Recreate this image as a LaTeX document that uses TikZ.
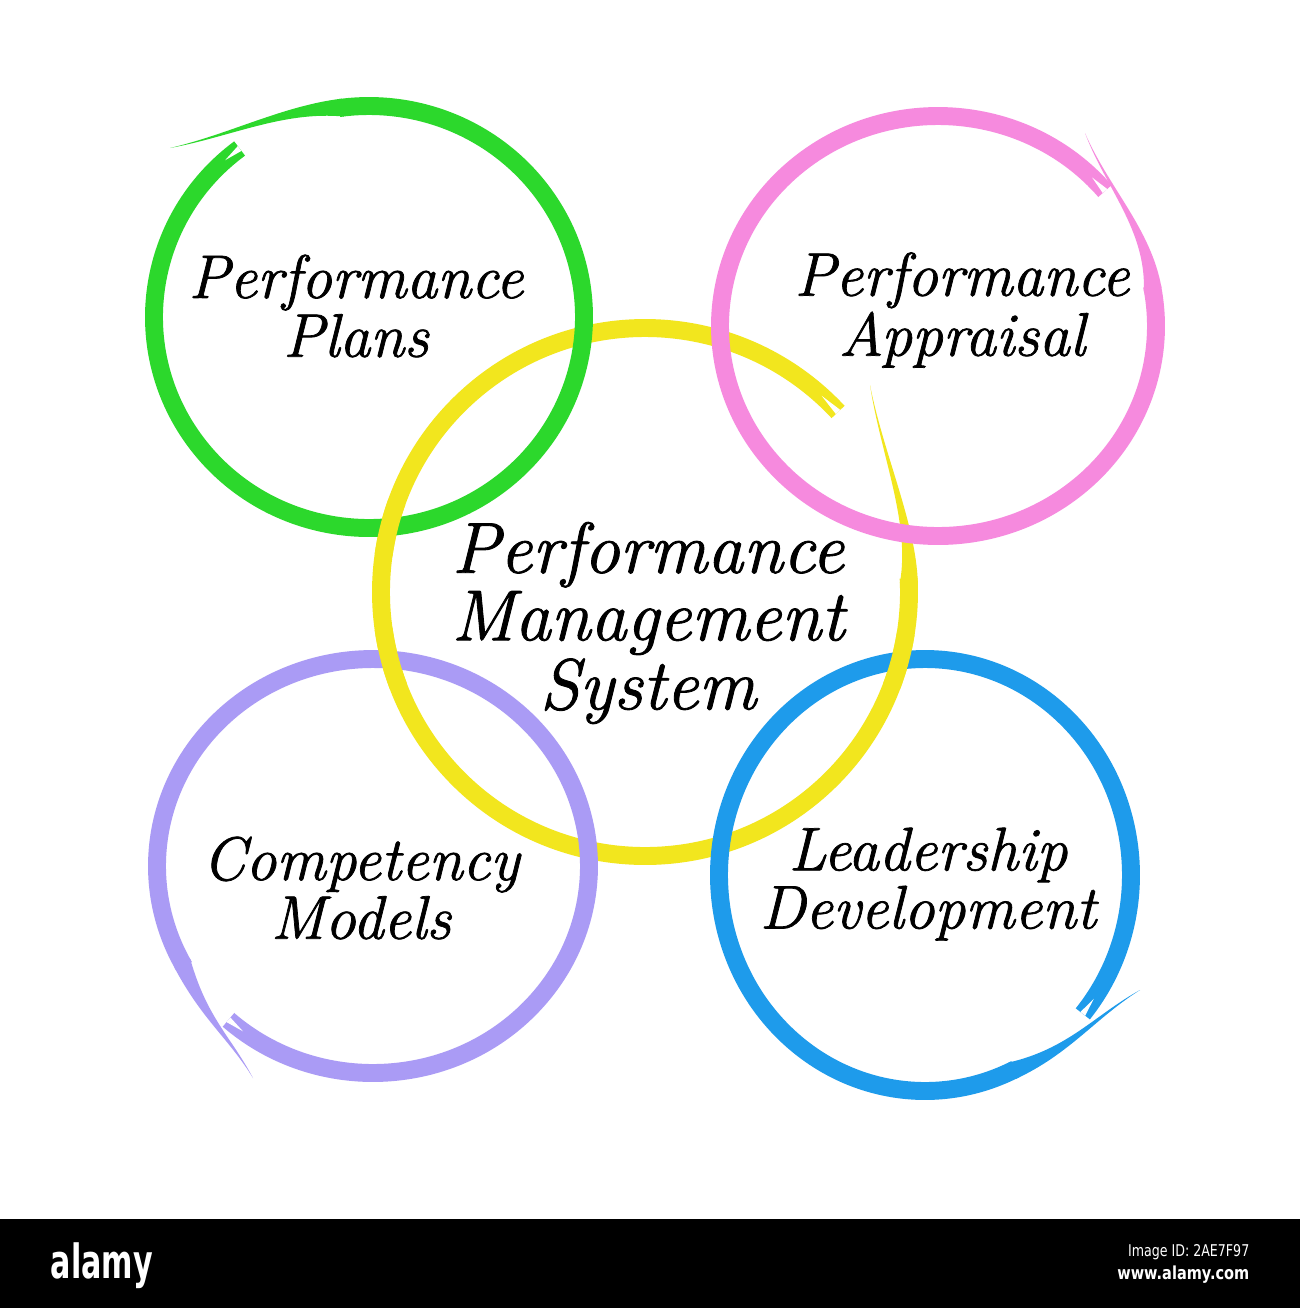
\documentclass[tikz,border=0pt]{standalone}
\usepackage{fontspec}
\usepackage{tikz}
\usetikzlibrary{calc,positioning}
\newfontfamily\wmfont{DejaVu Sans}
\newfontfamily\handfont{Latin Modern Roman}[FakeBold=1.2]
\definecolor{plangreen}{RGB}{44,216,44}
\definecolor{apppink}{RGB}{246,138,222}
\definecolor{hubyellow}{RGB}{242,230,30}
\definecolor{modpurple}{RGB}{170,155,245}
\definecolor{leadblue}{RGB}{30,155,235}
\tikzstyle{ring} = [line width=5.1pt, line cap=butt]
\tikzstyle{ringtext} = [align=center, inner sep=0pt, font=\handfont\fontsize{17.5}{15}\selectfont\itshape]
\tikzstyle{hubtext} = [align=center, inner sep=0pt, font=\handfont\fontsize{20.5}{17.6}\selectfont\itshape]
% thin brush tail: centre, x radius, y radius, end angle, tip, colour
\newcommand{\ringtail}[6]{%
  \pgfmathsetmacro\tlox{cos(#4)*(#2+9)}\pgfmathsetmacro\tloy{sin(#4)*(#3+9)}%
  \pgfmathsetmacro\tlix{cos(#4)*(#2-9)}\pgfmathsetmacro\tliy{sin(#4)*(#3-9)}%
  \pgfmathsetmacro\tlmx{cos(#4)*(#2+4)+sin(#4)*60}\pgfmathsetmacro\tlmy{sin(#4)*(#3+4)-cos(#4)*60}%
  \pgfmathsetmacro\tlcx{cos(#4)*(#2+9)+sin(#4)*60}\pgfmathsetmacro\tlcy{sin(#4)*(#3+9)-cos(#4)*60}%
  \pgfmathsetmacro\tlnx{-3*cos(#4)}\pgfmathsetmacro\tlny{-3*sin(#4)}%
  \pgfmathsetmacro\tlax{cos(#4)*#2}\pgfmathsetmacro\tlay{sin(#4)*#3}%
  \coordinate (tailmid) at ($(#1)+(\tlax,\tlay)$);
  \coordinate (tailpull) at ($(#5)!0.35!(tailmid)$);
  \fill[#6] ($(#1)+(\tlox,\tloy)$) .. controls ($(#1)+(\tlcx,\tlcy)$) and (tailpull) .. (#5)
    .. controls ($(tailpull)+(\tlnx,\tlny)$) and ($(#1)+(\tlmx,\tlmy)$) .. ($(#1)+(\tlix,\tliy)$) -- cycle;
}
% split brush start: centre, x radius, y radius, start angle
\newcommand{\ringfork}[4]{%
  \pgfmathsetmacro\fkox{cos(#4)*(#2+3)}\pgfmathsetmacro\fkoy{sin(#4)*(#3+3)}%
  \pgfmathsetmacro\fkix{cos(#4)*(#2-3)}\pgfmathsetmacro\fkiy{sin(#4)*(#3-3)}%
  \pgfmathsetmacro\fkax{cos(#4-5)*#2}\pgfmathsetmacro\fkay{sin(#4-5)*#3}%
  \fill[white] ($(#1)+(\fkox,\fkoy)$) -- ($(#1)+(\fkax,\fkay)$) -- ($(#1)+(\fkix,\fkiy)$) -- cycle;
}

\begin{document}
\begin{tikzpicture}[x=0.01cm, y=-0.01cm]
\useasboundingbox (0,0) rectangle (1300,1308);
\fill[white] (0,0) rectangle (1300,1308);

% centres
\coordinate (hubc) at (645,592);
\coordinate (planc) at (369,317);
\coordinate (appc) at (938,326);
\coordinate (modc) at (373,866);
\coordinate (leadc) at (925,875);

% middle ring
\draw[ring, hubyellow] ($(hubc)+(-43:264)$) arc[start angle=-43, end angle=-363, radius=264];
\ringfork{hubc}{264}{264}{-43}
\ringtail{hubc}{264}{264}{-362}{870,385}{hubyellow}

% outer rings
\draw[ring, plangreen] ($(planc)+({215*cos(233)},{211*sin(233)})$) arc[start angle=233, end angle=-98, x radius=215, y radius=211];
\ringfork{planc}{215}{211}{233}
\ringtail{planc}{215}{211}{-97}{170,148}{plangreen}

\draw[ring, apppink] ($(appc)+({218*cos(-40)},{210*sin(-40)})$) arc[start angle=-40, end angle=-371, x radius=218, y radius=210];
\ringfork{appc}{218}{210}{-40}
\ringtail{appc}{218}{210}{-370}{1085,133}{apppink}

\draw[ring, modpurple] ($(modc)+({216*cos(132)},{207*sin(132)})$) arc[start angle=132, end angle=-209, x radius=216, y radius=207];
\ringfork{modc}{216}{207}{132}
\ringtail{modc}{216}{207}{-208}{253,1078}{modpurple}

\draw[ring, leadblue] ($(leadc)+({206*cos(40)},{216*sin(40)})$) arc[start angle=40, end angle=-296, x radius=206, y radius=216];
\ringfork{leadc}{206}{216}{40}
\ringtail{leadc}{206}{216}{-295}{1140,990}{leadblue}

% yellow over the others here
\draw[ring, hubyellow] ($(hubc)+(188:264)$) arc[start angle=188, end angle=200, radius=264];
\draw[ring, hubyellow] ($(hubc)+(159:264)$) arc[start angle=159, end angle=172, radius=264];
\draw[ring, hubyellow] ($(hubc)+(9:264)$) arc[start angle=9, end angle=21, radius=264];

% texts
\node (hub) [hubtext] at (648,623) {Performance\\Management\\System};
\node (plans) [ringtext] at (356,306) {Performance\\Plans};
\node (appraisal) [ringtext] at (962,310) {Performance\\Appraisal};
\node (models) [ringtext] at (361,888) {Competency\\Models};
\node (leadership) [ringtext] at (928,884) {Leadership\\Development};

% stock band
\fill[black] (0,1219) rectangle (1300,1308);
\node (alamylogo) [anchor=base west, inner sep=0pt, text=white, font=\wmfont\bfseries\fontsize{13.4}{14}\selectfont] at (50,1278) {\scalebox{0.64}[1]{alamy}};
\node (imageid) [anchor=base east, inner sep=0pt, text=white, font=\wmfont\fontsize{4.6}{5}\selectfont] at (1250,1256) {\scalebox{0.78}[1]{Image ID: 2AE7F97}};
\node (siteurl) [anchor=base east, inner sep=0pt, text=white, font=\wmfont\bfseries\fontsize{5.1}{6}\selectfont] at (1250,1279) {\scalebox{0.81}[1]{www.alamy.com}};

\end{tikzpicture}
\end{document}
